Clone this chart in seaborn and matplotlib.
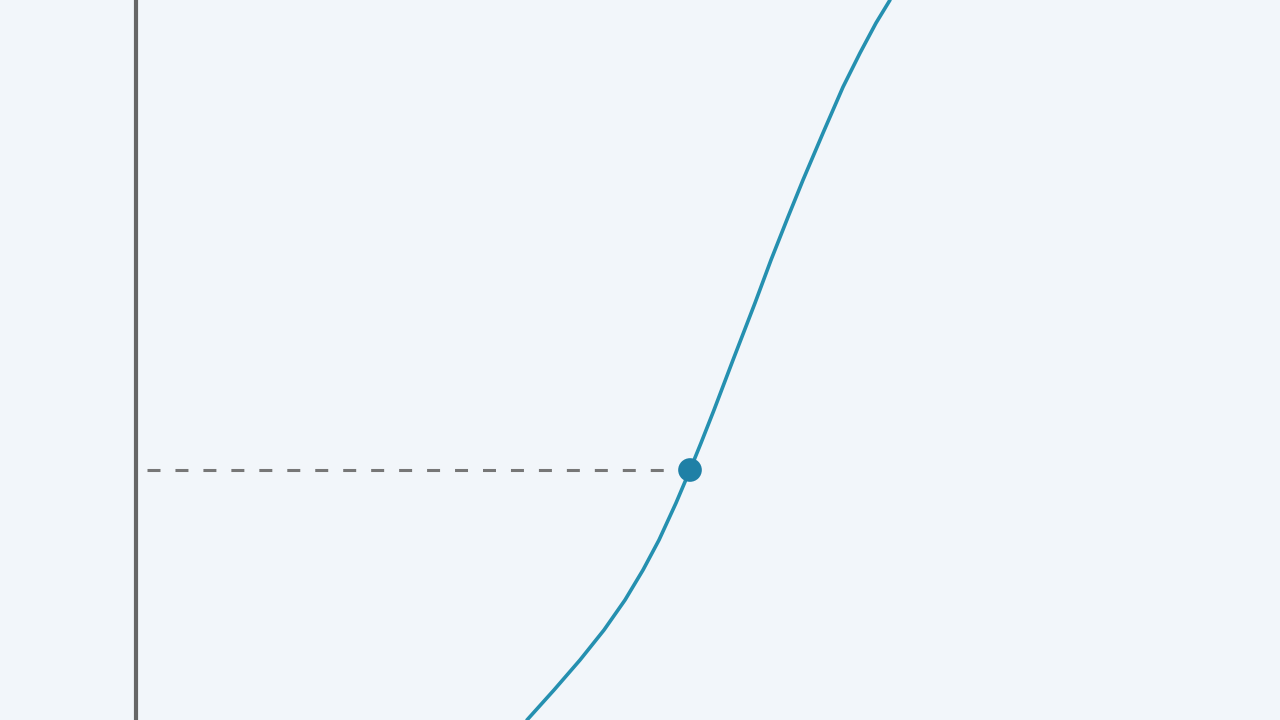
import numpy as np
import pandas as pd
import seaborn as sns
import matplotlib.pyplot as plt

# curve (x, y in screen-like units, y grows downward)
curve_x = [527, 554, 580, 604, 625, 643, 659, 676, 690, 701, 714,
           733, 755, 771, 788, 803, 823, 843, 860, 876, 890]
curve_y = [720, 690, 660, 630, 600, 570, 540, 503, 470, 443, 410,
           360, 303, 260, 217, 180, 133, 87, 53, 23, 0]

# highlighted point and its guide
point_x = [690]
point_y = [470]
axis_x = 136
guide_start = 147

bg = '#f2f6fa'
line_color = '#2590b0'
dot_color = '#1f80a6'

sns.set_style('white')
fig = plt.figure(figsize=(12.8, 7.2), dpi=100, facecolor=bg)
ax = fig.add_axes([0, 0, 1, 1])
ax.set_facecolor(bg)

df = pd.DataFrame({'x': curve_x, 'y': curve_y})
sns.lineplot(data=df, x='x', y='y', sort=False, ax=ax, color=line_color,
             linewidth=2.6, solid_capstyle='round', solid_joinstyle='round')

ax.axvline(axis_x, color='#666666', linewidth=3)
ax.hlines(point_y[0], guide_start, point_x[0] - 12, colors='#777777',
          linestyles=(0, (4.25, 4.9)), linewidth=2.2)

sns.scatterplot(x=point_x, y=point_y, ax=ax, color=dot_color, s=290,
                edgecolor='none', zorder=5)

ax.set_xlim(0, 1280)
ax.set_ylim(720, 0)
ax.set_axis_off()

fig.savefig('out.png', dpi=100, facecolor=bg)
plt.close(fig)
